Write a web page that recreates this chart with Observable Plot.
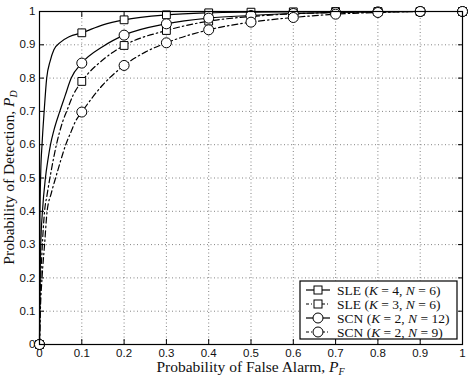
<!DOCTYPE html>
<html>
<head>
<meta charset="utf-8">
<script src="https://cdn.jsdelivr.net/npm/d3@7"></script>
<script src="https://cdn.jsdelivr.net/npm/@observablehq/plot@0.6"></script>
<style>
  html, body { margin: 0; padding: 0; background: #fff; }
  #chart { width: 474px; height: 376px; }
</style>
</head>
<body>
<div id="chart"></div>
<script>
// ---- data ----
const xTicks = [0, 0.1, 0.2, 0.3, 0.4, 0.5, 0.6, 0.7, 0.8, 0.9, 1];
const yTicks = [0, 0.1, 0.2, 0.3, 0.4, 0.5, 0.6, 0.7, 0.8, 0.9, 1];
const markerPF = [0, 0.1, 0.2, 0.3, 0.4, 0.5, 0.6, 0.7, 0.8, 0.9, 1];

const seriesNames = ["SLE (K = 4, N = 6)", "SLE (K = 3, N = 6)", "SCN (K = 2, N = 12)", "SCN (K = 2, N = 9)"];

const sleK4PF = [0, 0.001, 0.003, 0.006, 0.011, 0.017, 0.025, 0.034, 0.05, 0.07, 0.1, 0.15, 0.2, 0.3, 0.4, 0.5, 0.6, 0.7, 0.8, 0.9, 1];
const sleK4PD = [0, 0.38, 0.52, 0.6, 0.7, 0.8, 0.85, 0.885, 0.908, 0.924, 0.936, 0.96, 0.975, 0.99, 0.996, 0.998, 0.999, 1, 1, 1, 1];

const sleK3PF = [0, 0.002, 0.006, 0.012, 0.018, 0.026, 0.04, 0.055, 0.064, 0.08, 0.1, 0.15, 0.2, 0.3, 0.4, 0.5, 0.6, 0.7, 0.8, 0.9, 1];
const sleK3PD = [0, 0.15, 0.28, 0.4, 0.45, 0.51, 0.6, 0.67, 0.7, 0.75, 0.79, 0.855, 0.898, 0.943, 0.971, 0.985, 0.993, 0.997, 0.999, 1, 1];

const scn12PF = [0, 0.001, 0.003, 0.007, 0.014, 0.02, 0.026, 0.034, 0.048, 0.06, 0.075, 0.1, 0.15, 0.2, 0.3, 0.4, 0.5, 0.6, 0.7, 0.8, 0.9, 1];
const scn12PD = [0, 0.15, 0.3, 0.4, 0.5, 0.555, 0.6, 0.643, 0.7, 0.745, 0.8, 0.845, 0.895, 0.929, 0.963, 0.98, 0.988, 0.994, 0.997, 0.999, 1, 1];

const scn9PF = [0, 0.002, 0.006, 0.012, 0.018, 0.028, 0.038, 0.05, 0.062, 0.075, 0.085, 0.1, 0.15, 0.2, 0.25, 0.3, 0.4, 0.5, 0.6, 0.7, 0.8, 0.9, 1];
const scn9PD = [0, 0.1, 0.2, 0.3, 0.4, 0.455, 0.5, 0.552, 0.6, 0.64, 0.67, 0.698, 0.78, 0.838, 0.878, 0.906, 0.945, 0.968, 0.982, 0.992, 0.997, 1, 1];

// ---- build tables ----
const toRows = (pf, pd, name) => pf.map((x, i) => ({pf: x, pd: pd[i], series: name}));
const sleK4 = toRows(sleK4PF, sleK4PD, seriesNames[0]);
const sleK3 = toRows(sleK3PF, sleK3PD, seriesNames[1]);
const scn12 = toRows(scn12PF, scn12PD, seriesNames[2]);
const scn9 = toRows(scn9PF, scn9PD, seriesNames[3]);
const isMarker = d => markerPF.some(m => Math.abs(m - d.pf) < 1e-9);

const dashDot = "6,3,1.5,3";
const lineW = 1.2;
const styles = [
  {data: sleK4, dash: null, symbol: "square"},
  {data: sleK3, dash: dashDot, symbol: "square"},
  {data: scn12, dash: null, symbol: "circle"},
  {data: scn9, dash: dashDot, symbol: "circle"}
];

const W = 474, H = 376;
const mL = 39, mR = 12, mT = 11, mB = 32;
const sans = "Liberation Sans, Arial, sans-serif";

const marks = [
  Plot.gridX(xTicks, {stroke: "#777", strokeOpacity: 0.9, strokeDasharray: "1,2.5"}),
  Plot.gridY(yTicks, {stroke: "#777", strokeOpacity: 0.9, strokeDasharray: "1,2.5"}),
  Plot.axisX(xTicks, {anchor: "bottom", tickSize: -5, tickFormat: () => "", label: null}),
  Plot.axisX(xTicks, {anchor: "top", tickSize: -5, tickFormat: () => "", label: null}),
  Plot.axisY(yTicks, {anchor: "left", tickSize: -5, tickFormat: () => "", label: null}),
  Plot.axisY(yTicks, {anchor: "right", tickSize: -5, tickFormat: () => "", label: null}),
  Plot.axisX(xTicks, {anchor: "bottom", tickSize: 0, tickPadding: 4, label: null, fontSize: 11.5, fontFamily: sans, tickFormat: d => String(d), fill: "#111"}),
  Plot.axisY(yTicks, {anchor: "left", tickSize: 0, tickPadding: 4, label: null, fontSize: 11.5, fontFamily: sans, tickFormat: d => String(d), fill: "#111"})
];
for (const s of styles) {
  marks.push(Plot.line(s.data, {x: "pf", y: "pd", curve: "monotone-x", stroke: "black", strokeWidth: lineW, strokeDasharray: s.dash}));
}
for (const s of styles) {
  marks.push(Plot.dot(s.data.filter(isMarker), {x: "pf", y: "pd", symbol: s.symbol, r: s.symbol === "square" ? 4.4 : 5, fill: "white", stroke: "black", strokeWidth: 1}));
}
marks.push(Plot.frame({stroke: "black", strokeWidth: 1.2}));

const plot = Plot.plot({
  width: W, height: H,
  marginLeft: mL, marginRight: mR, marginTop: mT, marginBottom: mB,
  x: {domain: [0, 1], axis: null},
  y: {domain: [0, 1], axis: null},
  style: {background: "white", overflow: "visible"},
  marks
});
document.getElementById("chart").appendChild(plot);

// ---- titles and legend ----
const svg = d3.select(plot);
const serif = "Liberation Serif, 'Times New Roman', serif";

const xt = svg.append("text")
  .attr("x", (mL + W - mR) / 2).attr("y", 372)
  .attr("text-anchor", "middle").attr("font-family", serif).attr("font-size", 15.5).attr("fill", "#111");
xt.append("tspan").text("Probability of False Alarm, ");
xt.append("tspan").attr("font-style", "italic").text("P");
xt.append("tspan").attr("font-style", "italic").attr("font-size", 10).attr("dy", 3).text("F");

const yt = svg.append("text")
  .attr("transform", `translate(14, ${(mT + H - mB) / 2}) rotate(-90)`)
  .attr("text-anchor", "middle").attr("font-family", serif).attr("font-size", 15.5).attr("fill", "#111");
yt.append("tspan").text("Probability of Detection, ");
yt.append("tspan").attr("font-style", "italic").text("P");
yt.append("tspan").attr("font-style", "italic").attr("font-size", 10).attr("dy", 3).text("D");

const lg = svg.append("g");
lg.append("rect").attr("x", 300).attr("y", 281).attr("width", 157).attr("height", 58)
  .attr("fill", "white").attr("stroke", "black").attr("stroke-width", 1.2);
const legendParts = [
  ["SLE (", "K", " = 4, ", "N", " = 6)"],
  ["SLE (", "K", " = 3, ", "N", " = 6)"],
  ["SCN (", "K", " = 2, ", "N", " = 12)"],
  ["SCN (", "K", " = 2, ", "N", " = 9)"]
];
styles.forEach((s, i) => {
  const cy = 290 + i * 14;
  lg.append("line").attr("x1", 306).attr("x2", 330).attr("y1", cy).attr("y2", cy)
    .attr("stroke", "black").attr("stroke-width", lineW)
    .attr("stroke-dasharray", s.dash ? "3,2,1,2" : null);
  if (s.symbol === "square") {
    lg.append("rect").attr("x", 314).attr("y", cy - 4).attr("width", 8).attr("height", 8)
      .attr("fill", "white").attr("stroke", "black");
  } else {
    lg.append("circle").attr("cx", 318).attr("cy", cy).attr("r", 5)
      .attr("fill", "white").attr("stroke", "black");
  }
  const t = lg.append("text").attr("x", 337).attr("y", cy + 4.5)
    .attr("text-anchor", "start")
    .attr("font-family", serif).attr("font-size", 13.5).attr("fill", "#111");
  legendParts[i].forEach((p, j) => {
    t.append("tspan").attr("font-style", (j === 1 || j === 3) ? "italic" : null).text(p);
  });
});
</script>
</body>
</html>
